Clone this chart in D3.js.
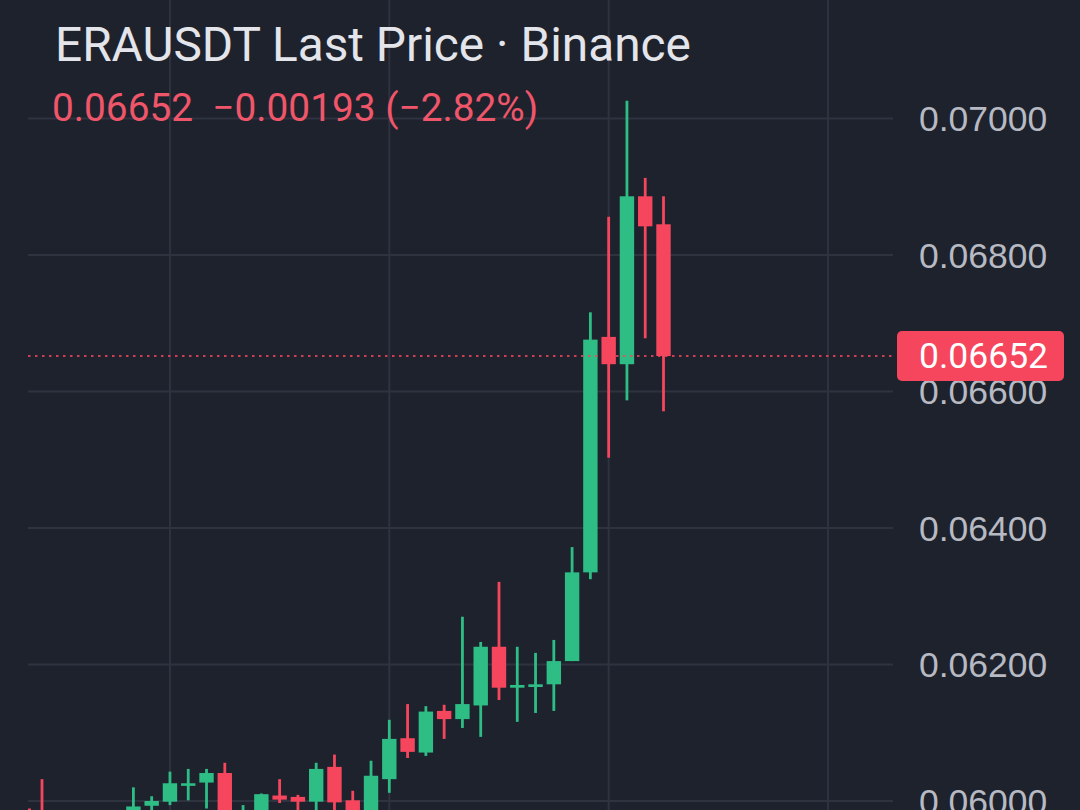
<!DOCTYPE html>
<html>
<head>
<meta charset="utf-8">
<script src="https://cdn.jsdelivr.net/npm/d3@7"></script>
<style>
  html, body { margin: 0; padding: 0; background: #1e222d; }
  svg { display: block; }
</style>
</head>
<body>
<div id="chart"></div>
<script>
const chartWidth = 1080;
const chartHeight = 810;
const plotLeft = 28;
const plotRight = 893;

const titleText = "ERAUSDT Last Price · Binance";
const lastPrice = 0.06652;
const priceChange = -0.00193;
const priceChangePct = -2.82;

// candle index, first one is cut by the left edge
const candleIndex = [-1, 0, 1, 2, 3, 4, 5, 6, 7, 8, 9, 10, 11, 12, 13, 14, 15, 16, 17,
  18, 19, 20, 21, 22, 23, 24, 25, 26, 27, 28, 29, 30, 31, 32, 33, 34];

const openPrices = [0.05989, 0.05985, 0.05970, 0.05945, 0.05960, 0.05950, 0.05975, 0.05993,
  0.05999, 0.06024, 0.06027, 0.06041, 0.05960, 0.05980, 0.06008, 0.06006, 0.05999, 0.06050,
  0.06001, 0.05985, 0.06032, 0.06092, 0.06071, 0.06132, 0.06120, 0.06140, 0.06226, 0.06166,
  0.06167, 0.06171, 0.06205, 0.06335, 0.06680, 0.06640, 0.06886, 0.06845];

const highPrices = [0.05991, 0.06032, 0.05984, 0.05975, 0.05980, 0.05983, 0.06020, 0.06007,
  0.06043, 0.06047, 0.06047, 0.06056, 0.05994, 0.06011, 0.06032, 0.06009, 0.06056, 0.06068,
  0.06015, 0.06059, 0.06119, 0.06142, 0.06139, 0.06141, 0.06270, 0.06233, 0.06321, 0.06226,
  0.06217, 0.06236, 0.06372, 0.06716, 0.06856, 0.07026, 0.06913, 0.06886];

const lowPrices = [0.05940, 0.05950, 0.05930, 0.05925, 0.05940, 0.05935, 0.05965, 0.05980,
  0.05994, 0.06001, 0.05989, 0.05960, 0.05950, 0.05970, 0.05997, 0.05980, 0.05984, 0.05980,
  0.05970, 0.05975, 0.06012, 0.06063, 0.06066, 0.06091, 0.06107, 0.06094, 0.06148, 0.06116,
  0.06129, 0.06132, 0.06205, 0.06325, 0.06503, 0.06587, 0.06678, 0.06571];

const closePrices = [0.05960, 0.05970, 0.05945, 0.05960, 0.05950, 0.05975, 0.05992, 0.06000,
  0.06026, 0.06026, 0.06041, 0.05975, 0.05984, 0.06010, 0.06002, 0.05999, 0.06047, 0.05998,
  0.05985, 0.06037, 0.06091, 0.06072, 0.06131, 0.06120, 0.06142, 0.06226, 0.06166, 0.06170,
  0.06171, 0.06205, 0.06335, 0.06676, 0.06640, 0.06886, 0.06842, 0.06652];

const priceTicks = [0.060, 0.062, 0.064, 0.066, 0.068, 0.070];
const timeGridIndex = [7, 19, 31, 43];

const upColor = "#2ebd85";
const downColor = "#f6465d";
const gridColor = "#2f3340";

const candles = candleIndex.map((d, i) => ({
  i: d,
  open: openPrices[i],
  high: highPrices[i],
  low: lowPrices[i],
  close: closePrices[i]
}));

const xScale = d3.scaleLinear().domain([0, 34]).range([42, 663.5]);
const yScale = d3.scaleLinear().domain([0.060, 0.070]).range([801, 118.5]);
const fmt = d3.format(".5f");

const svg = d3.select("#chart").append("svg")
  .attr("width", chartWidth)
  .attr("height", chartHeight)
  .style("font-family", "Roboto, 'Noto Sans', sans-serif");

svg.append("rect")
  .attr("width", chartWidth)
  .attr("height", chartHeight)
  .attr("fill", "#1e222d");

svg.append("defs").append("clipPath")
  .attr("id", "plot-clip")
  .append("rect")
  .attr("x", plotLeft)
  .attr("y", 0)
  .attr("width", plotRight - plotLeft)
  .attr("height", chartHeight);

// grid
svg.append("g")
  .selectAll("line")
  .data(timeGridIndex)
  .join("line")
  .attr("x1", d => xScale(d))
  .attr("x2", d => xScale(d))
  .attr("y1", 0)
  .attr("y2", chartHeight)
  .attr("stroke", gridColor)
  .attr("stroke-width", 2);

svg.append("g")
  .selectAll("line")
  .data(priceTicks)
  .join("line")
  .attr("x1", plotLeft)
  .attr("x2", plotRight)
  .attr("y1", d => yScale(d))
  .attr("y2", d => yScale(d))
  .attr("stroke", gridColor)
  .attr("stroke-width", 2);

// price axis
const yAxis = d3.axisRight(yScale)
  .tickValues(priceTicks)
  .tickFormat(fmt)
  .tickSize(0)
  .tickPadding(26);

const axisG = svg.append("g")
  .attr("transform", `translate(${plotRight},0)`)
  .call(yAxis);

axisG.select(".domain").remove();
axisG.selectAll("text")
  .attr("fill", "#b7bac2")
  .attr("font-size", "35.5px")
  .attr("dy", "0.35em");

// candles
const candleG = svg.append("g").attr("clip-path", "url(#plot-clip)");

const candle = candleG.selectAll("g")
  .data(candles)
  .join("g")
  .attr("fill", d => d.close >= d.open ? upColor : downColor);

candle.append("rect")
  .attr("x", d => xScale(d.i) - 1.4)
  .attr("width", 2.8)
  .attr("y", d => yScale(d.high))
  .attr("height", d => yScale(d.low) - yScale(d.high));

candle.append("rect")
  .attr("x", d => xScale(d.i) - 7.2)
  .attr("width", 14.4)
  .attr("y", d => yScale(Math.max(d.open, d.close)))
  .attr("height", d => Math.max(2.6, Math.abs(yScale(d.open) - yScale(d.close))));

// last price line and label
svg.append("line")
  .attr("x1", plotLeft)
  .attr("x2", plotRight)
  .attr("y1", yScale(lastPrice))
  .attr("y2", yScale(lastPrice))
  .attr("stroke", downColor)
  .attr("stroke-opacity", 0.8)
  .attr("stroke-width", 2.2)
  .attr("stroke-dasharray", "2.5,4.5");

svg.append("rect")
  .attr("x", 897)
  .attr("y", yScale(lastPrice) - 25)
  .attr("width", 167)
  .attr("height", 50)
  .attr("rx", 5)
  .attr("fill", downColor);

svg.append("text")
  .attr("x", 919)
  .attr("y", yScale(lastPrice))
  .attr("dy", "0.35em")
  .attr("fill", "#ffffff")
  .attr("font-size", "35.5px")
  .text(fmt(lastPrice));

// header
svg.append("text")
  .attr("x", 55)
  .attr("y", 61)
  .attr("fill", "#e3e5ea")
  .attr("font-size", "47.8px")
  .text(titleText);

svg.append("text")
  .attr("x", 52)
  .attr("y", 121)
  .attr("fill", "#f0566a")
  .attr("font-size", "38.8px")
  .attr("xml:space", "preserve")
  .style("white-space", "pre")
  .text(`${fmt(lastPrice)}  −${fmt(Math.abs(priceChange))} (−${Math.abs(priceChangePct).toFixed(2)}%)`);
</script>
</body>
</html>
